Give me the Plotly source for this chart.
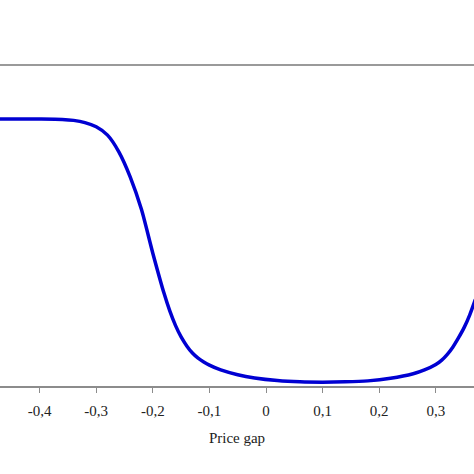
import plotly.graph_objects as go

# Data
price_gap = [-0.47, -0.40, -0.36, -0.34, -0.32, -0.30, -0.28, -0.26, -0.24, -0.22,
             -0.20, -0.18, -0.17, -0.16, -0.15, -0.14, -0.13, -0.12, -0.11, -0.10,
             -0.08, -0.05, -0.02, 0.02, 0.06, 0.10, 0.14, 0.18, 0.22, 0.26,
             0.28, 0.30, 0.31, 0.32, 0.33, 0.34, 0.35, 0.36, 0.37]
probability = [0.832, 0.832, 0.831, 0.828, 0.821, 0.808, 0.782, 0.730, 0.652, 0.550,
               0.414, 0.288, 0.234, 0.189, 0.153, 0.125, 0.103, 0.087, 0.075, 0.065,
               0.050, 0.035, 0.025, 0.017, 0.013, 0.012, 0.013, 0.016, 0.024, 0.038,
               0.050, 0.067, 0.080, 0.098, 0.121, 0.150, 0.182, 0.222, 0.270]

x_tick_vals = [-0.4, -0.3, -0.2, -0.1, 0, 0.1, 0.2, 0.3]
x_tick_text = ["-0,4", "-0,3", "-0,2", "-0,1", "0", "0,1", "0,2", "0,3"]
y_grid_vals = [1.0]

serif = "Liberation Serif"

fig = go.Figure()
fig.add_trace(go.Scatter(
    x=price_gap, y=probability, mode="lines",
    line=dict(color="#0000D2", width=3.5, shape="spline", smoothing=0.7),
    showlegend=False, hoverinfo="skip",
))

fig.update_layout(
    width=474, height=474,
    margin=dict(l=0, r=0, t=62, b=88, autoexpand=False),
    paper_bgcolor="white", plot_bgcolor="white",
    font=dict(family=serif, size=15, color="#222222"),
    showlegend=False,
)
fig.update_xaxes(
    range=[-0.470, 0.3675], automargin=False,
    tickvals=x_tick_vals, ticktext=x_tick_text,
    showgrid=False, zeroline=False,
    showline=True, linecolor="#8c8c8c", linewidth=2,
    ticks="outside", ticklen=5, tickcolor="#8c8c8c", tickwidth=1,
    ticklabelstandoff=5,
    tickfont=dict(family=serif, size=15, color="#222222"),
    title=dict(text="Price gap", font=dict(family=serif, size=15, color="#222222"), standoff=14),
)
fig.update_yaxes(
    range=[0, 1.01], automargin=False,
    tickvals=y_grid_vals, showticklabels=False,
    showgrid=True, gridcolor="#9a9a9a", gridwidth=2,
    zeroline=False, showline=False, ticks="",
)

fig.write_html(
    "out.html",
    config={"displayModeBar": False},
    post_script="document.body.style.margin='0';document.body.style.padding='0';",
)
